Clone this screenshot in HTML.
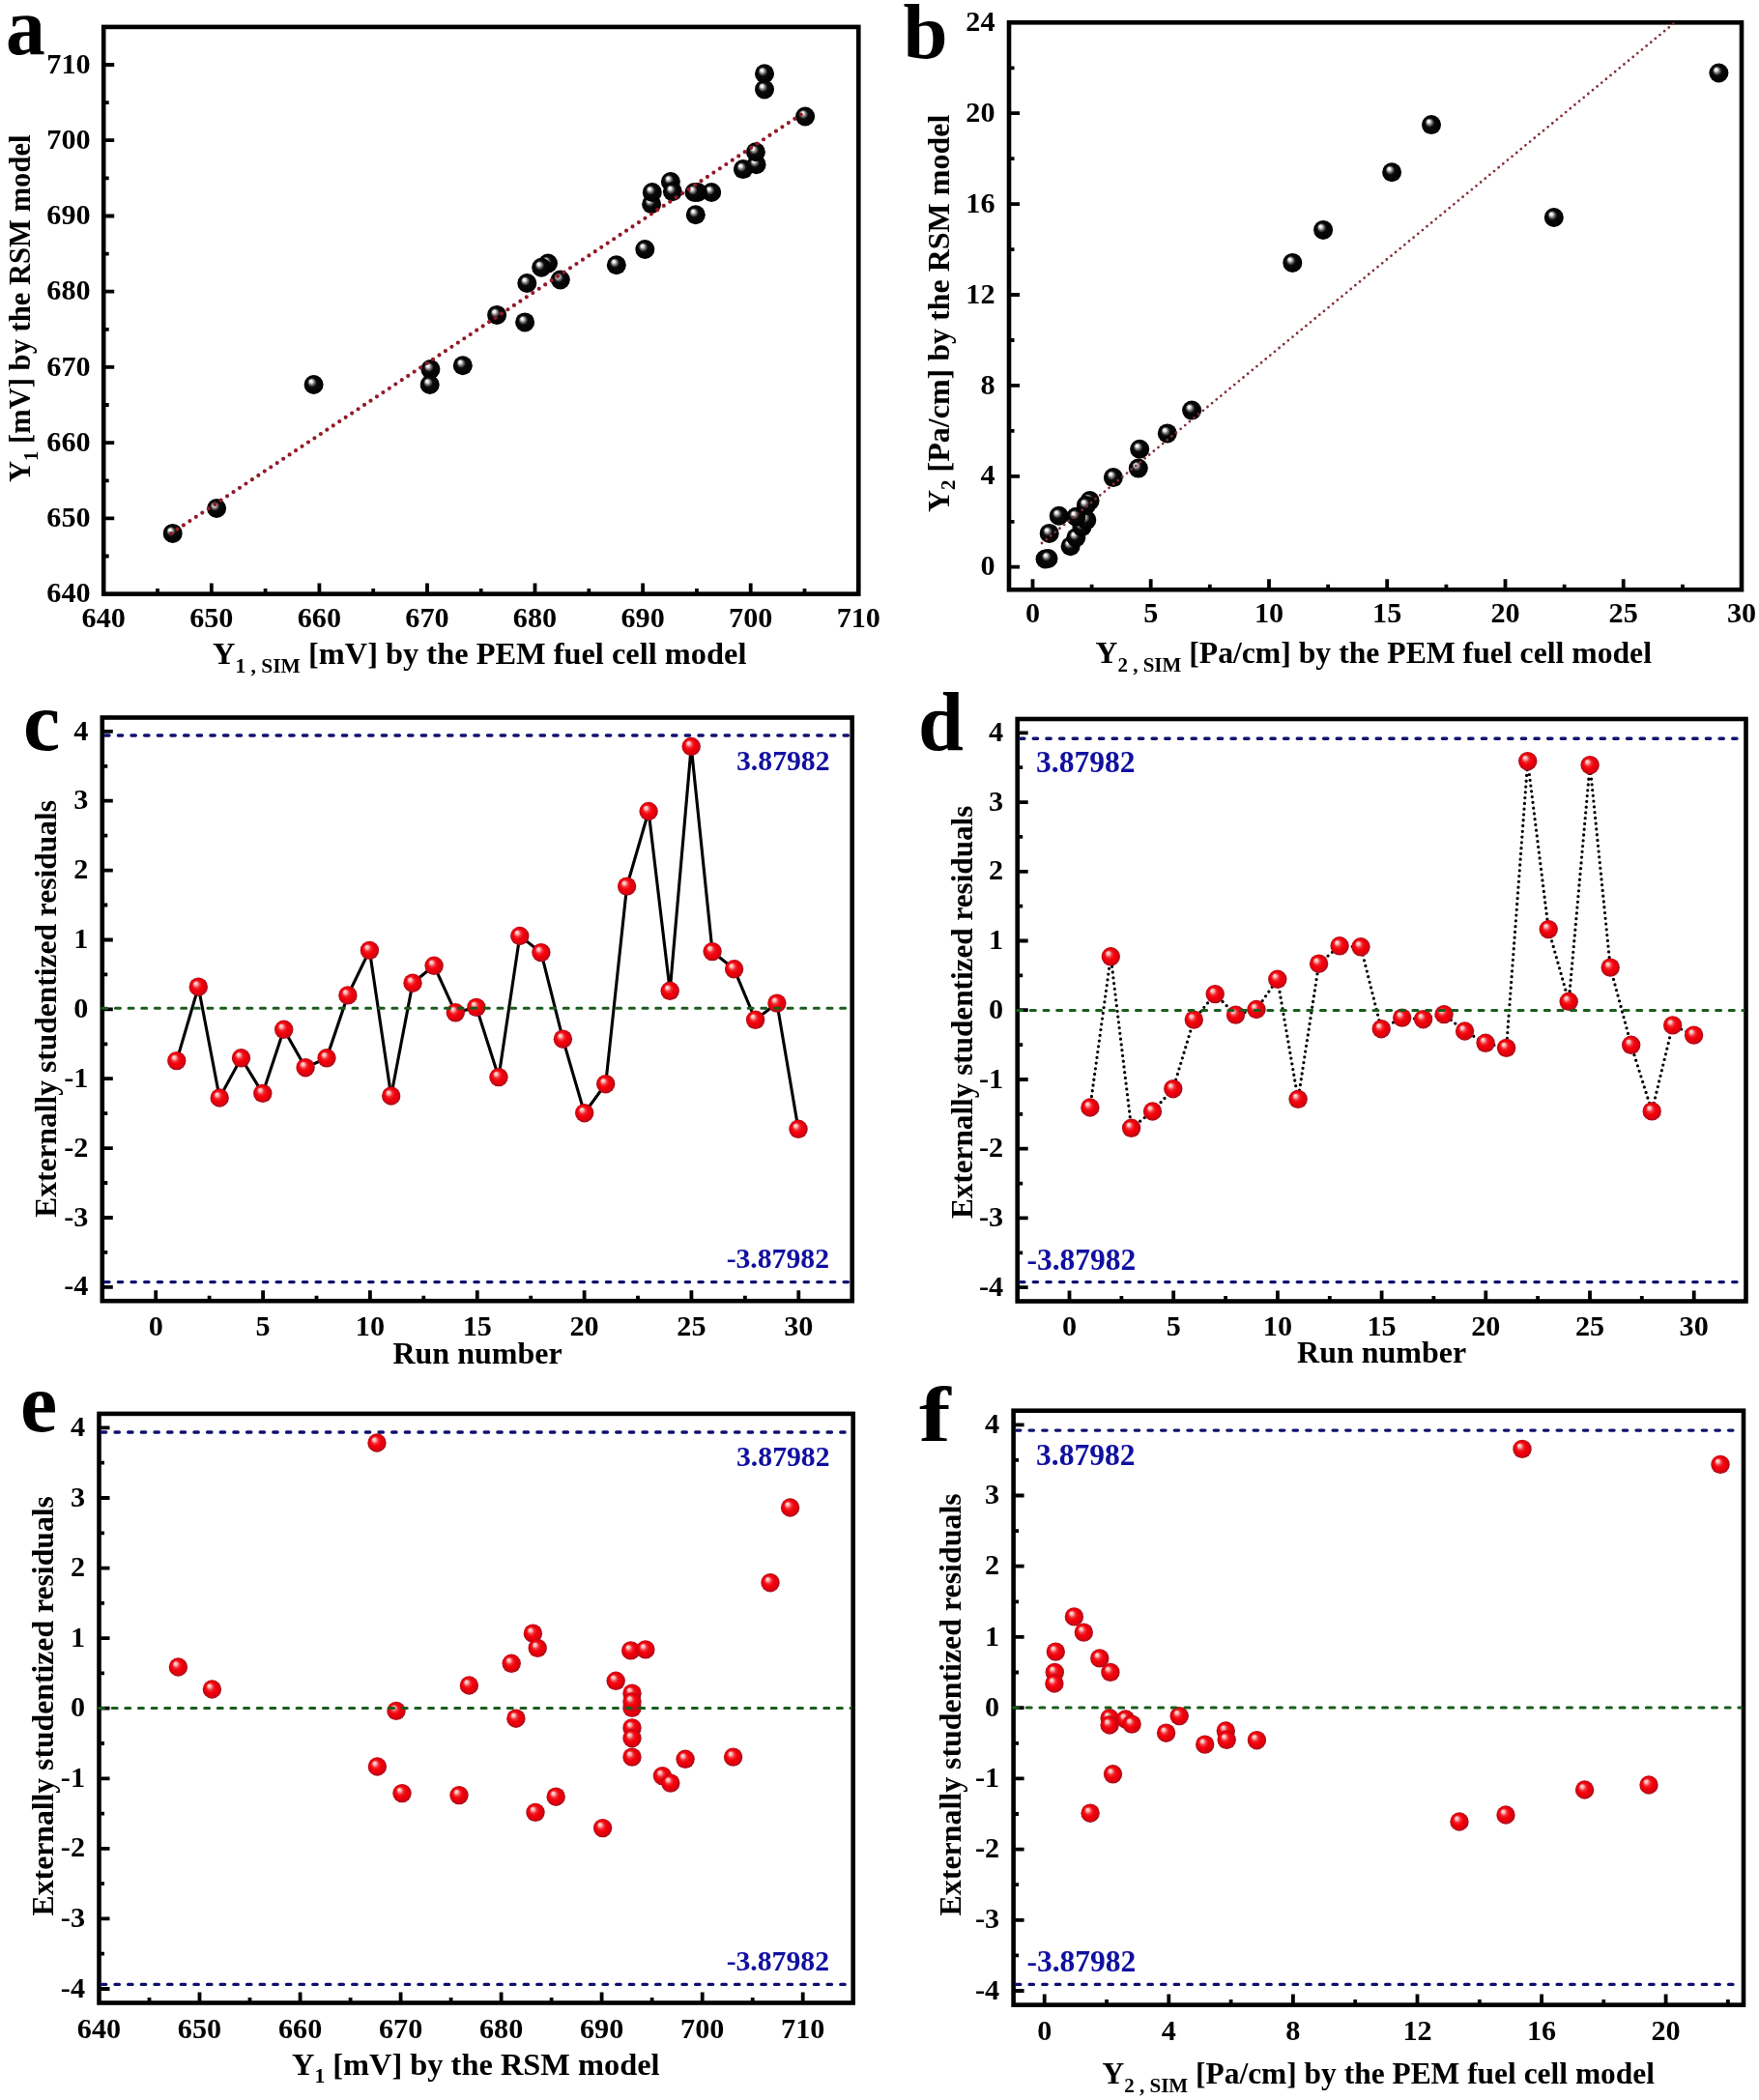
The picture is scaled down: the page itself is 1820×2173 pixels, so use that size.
<!DOCTYPE html>
<html><head><meta charset="utf-8"><title>Figure</title>
<style>html,body{margin:0;padding:0;background:#fff;}svg{display:block;filter:blur(0.45px);}</style>
</head><body>
<svg width="1820" height="2173" viewBox="0 0 1820 2173" font-family="'Liberation Serif', 'Times New Roman', serif" font-weight="bold">
<defs>
<radialGradient id="gk" cx="0.5" cy="0.5" r="0.5" fx="0.34" fy="0.3">
<stop offset="0" stop-color="#ffffff"/>
<stop offset="0.14" stop-color="#eeeeee"/>
<stop offset="0.3" stop-color="#777"/>
<stop offset="0.48" stop-color="#0a0a0a"/>
<stop offset="1" stop-color="#000"/>
</radialGradient>
<radialGradient id="gr" cx="0.5" cy="0.5" r="0.5" fx="0.33" fy="0.29">
<stop offset="0" stop-color="#ffe6e0"/>
<stop offset="0.18" stop-color="#ffb4b0"/>
<stop offset="0.36" stop-color="#f0303a"/>
<stop offset="0.56" stop-color="#f50008"/>
<stop offset="0.8" stop-color="#e2000e"/>
<stop offset="0.92" stop-color="#b80c18"/>
<stop offset="1" stop-color="#a00c18"/>
</radialGradient>
</defs>
<rect width="1820" height="2173" fill="#fff"/>
<path d="M218.8 614.6V603.6M330.4 614.6V603.6M442 614.6V603.6M553.5 614.6V603.6M665.1 614.6V603.6M776.7 614.6V603.6M163 614.6V609.1M274.6 614.6V609.1M386.2 614.6V609.1M497.7 614.6V609.1M609.3 614.6V609.1M720.9 614.6V609.1M832.5 614.6V609.1M107.2 536.4H118.2M107.2 458.1H118.2M107.2 379.9H118.2M107.2 301.7H118.2M107.2 223.5H118.2M107.2 145.2H118.2M107.2 67H118.2M107.2 575.5H112.7M107.2 497.3H112.7M107.2 419H112.7M107.2 340.8H112.7M107.2 262.6H112.7M107.2 184.4H112.7M107.2 106.1H112.7" stroke="#000" stroke-width="3.8" fill="none"/>
<rect x="107.2" y="27.9" width="781.1" height="586.7" fill="none" stroke="#000" stroke-width="4.6" stroke-linejoin="miter"/>
<g font-size="30.2"><text x="107.2" y="649.1" text-anchor="middle">640</text><text x="218.8" y="649.1" text-anchor="middle">650</text><text x="330.4" y="649.1" text-anchor="middle">660</text><text x="442" y="649.1" text-anchor="middle">670</text><text x="553.5" y="649.1" text-anchor="middle">680</text><text x="665.1" y="649.1" text-anchor="middle">690</text><text x="776.7" y="649.1" text-anchor="middle">700</text><text x="888.3" y="649.1" text-anchor="middle">710</text><text x="93.6" y="623.2" text-anchor="end">640</text><text x="93.6" y="545" text-anchor="end">650</text><text x="93.6" y="466.7" text-anchor="end">660</text><text x="93.6" y="388.5" text-anchor="end">670</text><text x="93.6" y="310.3" text-anchor="end">680</text><text x="93.6" y="232.1" text-anchor="end">690</text><text x="93.6" y="153.8" text-anchor="end">700</text><text x="93.6" y="75.6" text-anchor="end">710</text></g>
<g><circle cx="178.7" cy="551.9" r="10" fill="url(#gk)"/><circle cx="224.1" cy="526" r="10" fill="url(#gk)"/><circle cx="324.6" cy="398" r="10" fill="url(#gk)"/><circle cx="445.4" cy="382.1" r="10" fill="url(#gk)"/><circle cx="444.7" cy="398" r="10" fill="url(#gk)"/><circle cx="478.8" cy="378.2" r="10" fill="url(#gk)"/><circle cx="514.1" cy="325.9" r="10" fill="url(#gk)"/><circle cx="543.1" cy="333.4" r="10" fill="url(#gk)"/><circle cx="545.3" cy="293" r="10" fill="url(#gk)"/><circle cx="567" cy="272.5" r="10" fill="url(#gk)"/><circle cx="560.2" cy="276.8" r="10" fill="url(#gk)"/><circle cx="579.8" cy="289.5" r="10" fill="url(#gk)"/><circle cx="637.8" cy="274.2" r="10" fill="url(#gk)"/><circle cx="667.3" cy="258" r="10" fill="url(#gk)"/><circle cx="674.1" cy="211.2" r="10" fill="url(#gk)"/><circle cx="674.8" cy="199" r="10" fill="url(#gk)"/><circle cx="693.9" cy="188" r="10" fill="url(#gk)"/><circle cx="695.9" cy="198.3" r="10" fill="url(#gk)"/><circle cx="719.8" cy="222.2" r="10" fill="url(#gk)"/><circle cx="736.2" cy="199" r="10" fill="url(#gk)"/><circle cx="721.9" cy="199" r="10" fill="url(#gk)"/><circle cx="718.5" cy="199" r="10" fill="url(#gk)"/><circle cx="768.9" cy="175.1" r="10" fill="url(#gk)"/><circle cx="782.6" cy="170.3" r="10" fill="url(#gk)"/><circle cx="781.9" cy="157.3" r="10" fill="url(#gk)"/><circle cx="791" cy="92.5" r="10" fill="url(#gk)"/><circle cx="791" cy="76.2" r="10" fill="url(#gk)"/><circle cx="833.1" cy="120.5" r="10" fill="url(#gk)"/></g>
<line x1="177" y1="552" x2="831" y2="117" stroke="#921a28" stroke-width="4.2" stroke-linecap="round" stroke-dasharray="0 7.75"/>
<path d="M1068.5 610.2V599.2M1190.7 610.2V599.2M1313 610.2V599.2M1435.2 610.2V599.2M1557.5 610.2V599.2M1679.7 610.2V599.2M1129.6 610.2V604.7M1251.8 610.2V604.7M1374.1 610.2V604.7M1496.4 610.2V604.7M1618.6 610.2V604.7M1740.9 610.2V604.7M1044 586.7H1055M1044 492.8H1055M1044 398.9H1055M1044 305H1055M1044 211.1H1055M1044 117.2H1055M1044 539.8H1049.5M1044 445.9H1049.5M1044 352H1049.5M1044 258.1H1049.5M1044 164.2H1049.5M1044 70.3H1049.5" stroke="#000" stroke-width="3.8" fill="none"/>
<rect x="1044" y="23.3" width="758" height="586.9" fill="none" stroke="#000" stroke-width="4.6" stroke-linejoin="miter"/>
<g font-size="30.2"><text x="1068.5" y="644" text-anchor="middle">0</text><text x="1190.7" y="644" text-anchor="middle">5</text><text x="1313" y="644" text-anchor="middle">10</text><text x="1435.2" y="644" text-anchor="middle">15</text><text x="1557.5" y="644" text-anchor="middle">20</text><text x="1679.7" y="644" text-anchor="middle">25</text><text x="1802" y="644" text-anchor="middle">30</text><text x="1029.5" y="595.3" text-anchor="end">0</text><text x="1029.5" y="501.4" text-anchor="end">4</text><text x="1029.5" y="407.5" text-anchor="end">8</text><text x="1029.5" y="313.6" text-anchor="end">12</text><text x="1029.5" y="219.7" text-anchor="end">16</text><text x="1029.5" y="125.8" text-anchor="end">20</text><text x="1029.5" y="31.9" text-anchor="end">24</text></g>
<g><circle cx="1081.5" cy="578.5" r="10" fill="url(#gk)"/><circle cx="1084.5" cy="578" r="10" fill="url(#gk)"/><circle cx="1085.7" cy="551.9" r="10" fill="url(#gk)"/><circle cx="1095.7" cy="533.8" r="10" fill="url(#gk)"/><circle cx="1107.6" cy="565.2" r="10" fill="url(#gk)"/><circle cx="1113.3" cy="556.2" r="10" fill="url(#gk)"/><circle cx="1119.5" cy="545.2" r="10" fill="url(#gk)"/><circle cx="1124.3" cy="538.1" r="10" fill="url(#gk)"/><circle cx="1113.3" cy="534.8" r="10" fill="url(#gk)"/><circle cx="1127.6" cy="518.1" r="10" fill="url(#gk)"/><circle cx="1123.8" cy="522.9" r="10" fill="url(#gk)"/><circle cx="1151.9" cy="494.1" r="10" fill="url(#gk)"/><circle cx="1177.8" cy="484.6" r="10" fill="url(#gk)"/><circle cx="1179.2" cy="464.8" r="10" fill="url(#gk)"/><circle cx="1207.8" cy="448.4" r="10" fill="url(#gk)"/><circle cx="1233.1" cy="424.6" r="10" fill="url(#gk)"/><circle cx="1337.3" cy="271.9" r="10" fill="url(#gk)"/><circle cx="1369.1" cy="237.9" r="10" fill="url(#gk)"/><circle cx="1440.1" cy="178.2" r="10" fill="url(#gk)"/><circle cx="1481" cy="129.1" r="10" fill="url(#gk)"/><circle cx="1607.8" cy="225" r="10" fill="url(#gk)"/><circle cx="1778.4" cy="75.5" r="10" fill="url(#gk)"/></g>
<line x1="1078" y1="562" x2="1732.6" y2="23.6" stroke="#84303a" stroke-width="2.8" stroke-linecap="round" stroke-dasharray="0 6.0"/>
<path d="M161.2 1346.2V1335.2M272.1 1346.2V1335.2M382.9 1346.2V1335.2M493.8 1346.2V1335.2M604.6 1346.2V1335.2M715.4 1346.2V1335.2M826.3 1346.2V1335.2M216.6 1346.2V1340.7M327.5 1346.2V1340.7M438.3 1346.2V1340.7M549.2 1346.2V1340.7M660 1346.2V1340.7M770.9 1346.2V1340.7M105.8 1331.8H116.8M105.8 1260H116.8M105.8 1188.1H116.8M105.8 1116.2H116.8M105.8 1044.3H116.8M105.8 972.5H116.8M105.8 900.6H116.8M105.8 828.7H116.8M105.8 756.9H116.8M105.8 1295.9H111.3M105.8 1224H111.3M105.8 1152.2H111.3M105.8 1080.3H111.3M105.8 1008.4H111.3M105.8 936.5H111.3M105.8 864.7H111.3M105.8 792.8H111.3" stroke="#000" stroke-width="3.8" fill="none"/>
<rect x="105.8" y="742.5" width="775.9" height="603.7" fill="none" stroke="#000" stroke-width="4.6" stroke-linejoin="miter"/>
<g font-size="30.2"><text x="161.2" y="1381.5" text-anchor="middle">0</text><text x="272.1" y="1381.5" text-anchor="middle">5</text><text x="382.9" y="1381.5" text-anchor="middle">10</text><text x="493.8" y="1381.5" text-anchor="middle">15</text><text x="604.6" y="1381.5" text-anchor="middle">20</text><text x="715.4" y="1381.5" text-anchor="middle">25</text><text x="826.3" y="1381.5" text-anchor="middle">30</text><text x="91.3" y="1340.4" text-anchor="end">-4</text><text x="91.3" y="1268.6" text-anchor="end">-3</text><text x="91.3" y="1196.7" text-anchor="end">-2</text><text x="91.3" y="1124.8" text-anchor="end">-1</text><text x="91.3" y="1052.9" text-anchor="end">0</text><text x="91.3" y="981.1" text-anchor="end">1</text><text x="91.3" y="909.2" text-anchor="end">2</text><text x="91.3" y="837.3" text-anchor="end">3</text><text x="91.3" y="765.5" text-anchor="end">4</text></g>
<polyline points="182.8,1097.6 205.3,1021.2 227.2,1136 249.5,1094.8 271.8,1131.4 293.7,1065.3 316.1,1104.7 338,1094.8 359.9,1029.9 382.4,983.4 404.7,1134 427,1017.2 449.1,999.3 471.3,1047.8 492.9,1042.4 516,1114.6 537.8,968.5 559.9,985.6 582.4,1075.2 604.7,1151.7 626.7,1121.7 648.6,917.1 671.1,839.5 693.2,1025.3 715.2,772.5 737.1,984.6 759.6,1002.8 781.6,1055.3 803.9,1038.1 826,1168.3" fill="none" stroke="#000" stroke-width="3.1" stroke-linejoin="miter"/>
<g><circle cx="182.8" cy="1097.6" r="9.7" fill="url(#gr)"/><circle cx="205.3" cy="1021.2" r="9.7" fill="url(#gr)"/><circle cx="227.2" cy="1136" r="9.7" fill="url(#gr)"/><circle cx="249.5" cy="1094.8" r="9.7" fill="url(#gr)"/><circle cx="271.8" cy="1131.4" r="9.7" fill="url(#gr)"/><circle cx="293.7" cy="1065.3" r="9.7" fill="url(#gr)"/><circle cx="316.1" cy="1104.7" r="9.7" fill="url(#gr)"/><circle cx="338" cy="1094.8" r="9.7" fill="url(#gr)"/><circle cx="359.9" cy="1029.9" r="9.7" fill="url(#gr)"/><circle cx="382.4" cy="983.4" r="9.7" fill="url(#gr)"/><circle cx="404.7" cy="1134" r="9.7" fill="url(#gr)"/><circle cx="427" cy="1017.2" r="9.7" fill="url(#gr)"/><circle cx="449.1" cy="999.3" r="9.7" fill="url(#gr)"/><circle cx="471.3" cy="1047.8" r="9.7" fill="url(#gr)"/><circle cx="492.9" cy="1042.4" r="9.7" fill="url(#gr)"/><circle cx="516" cy="1114.6" r="9.7" fill="url(#gr)"/><circle cx="537.8" cy="968.5" r="9.7" fill="url(#gr)"/><circle cx="559.9" cy="985.6" r="9.7" fill="url(#gr)"/><circle cx="582.4" cy="1075.2" r="9.7" fill="url(#gr)"/><circle cx="604.7" cy="1151.7" r="9.7" fill="url(#gr)"/><circle cx="626.7" cy="1121.7" r="9.7" fill="url(#gr)"/><circle cx="648.6" cy="917.1" r="9.7" fill="url(#gr)"/><circle cx="671.1" cy="839.5" r="9.7" fill="url(#gr)"/><circle cx="693.2" cy="1025.3" r="9.7" fill="url(#gr)"/><circle cx="715.2" cy="772.5" r="9.7" fill="url(#gr)"/><circle cx="737.1" cy="984.6" r="9.7" fill="url(#gr)"/><circle cx="759.6" cy="1002.8" r="9.7" fill="url(#gr)"/><circle cx="781.6" cy="1055.3" r="9.7" fill="url(#gr)"/><circle cx="803.9" cy="1038.1" r="9.7" fill="url(#gr)"/><circle cx="826" cy="1168.3" r="9.7" fill="url(#gr)"/></g>
<path d="M105.3 761H879.2 M105.3 1326.6H879.2" stroke="#10106e" stroke-width="3.4" stroke-linecap="round" stroke-dasharray="4.3 9.35" stroke-dashoffset="-3.4" fill="none"/>
<path d="M105.8 1043.3H879.2" stroke="#1a5c1c" stroke-width="3.0" stroke-linecap="round" stroke-dasharray="5.0 8.64" fill="none"/>
<g fill="#1010a0" font-size="29.7"><text x="858.5" y="797.3" text-anchor="end">3.87982</text><text x="858" y="1311.7" text-anchor="end">-3.87982</text></g>
<path d="M1106.5 1346.5V1335.5M1214.2 1346.5V1335.5M1321.9 1346.5V1335.5M1429.6 1346.5V1335.5M1537.3 1346.5V1335.5M1645 1346.5V1335.5M1752.7 1346.5V1335.5M1160.4 1346.5V1341M1268.1 1346.5V1341M1375.8 1346.5V1341M1483.4 1346.5V1341M1591.1 1346.5V1341M1698.8 1346.5V1341M1052.7 1332.2H1063.7M1052.7 1260.4H1063.7M1052.7 1188.7H1063.7M1052.7 1117H1063.7M1052.7 1045.2H1063.7M1052.7 973.5H1063.7M1052.7 901.8H1063.7M1052.7 830.1H1063.7M1052.7 758.3H1063.7M1052.7 1296.3H1058.2M1052.7 1224.6H1058.2M1052.7 1152.8H1058.2M1052.7 1081.1H1058.2M1052.7 1009.4H1058.2M1052.7 937.7H1058.2M1052.7 865.9H1058.2M1052.7 794.2H1058.2" stroke="#000" stroke-width="3.8" fill="none"/>
<rect x="1052.7" y="744" width="753.8" height="602.5" fill="none" stroke="#000" stroke-width="4.6" stroke-linejoin="miter"/>
<g font-size="30.2"><text x="1106.5" y="1382" text-anchor="middle">0</text><text x="1214.2" y="1382" text-anchor="middle">5</text><text x="1321.9" y="1382" text-anchor="middle">10</text><text x="1429.6" y="1382" text-anchor="middle">15</text><text x="1537.3" y="1382" text-anchor="middle">20</text><text x="1645" y="1382" text-anchor="middle">25</text><text x="1752.7" y="1382" text-anchor="middle">30</text><text x="1038.2" y="1340.8" text-anchor="end">-4</text><text x="1038.2" y="1269" text-anchor="end">-3</text><text x="1038.2" y="1197.3" text-anchor="end">-2</text><text x="1038.2" y="1125.6" text-anchor="end">-1</text><text x="1038.2" y="1053.8" text-anchor="end">0</text><text x="1038.2" y="982.1" text-anchor="end">1</text><text x="1038.2" y="910.4" text-anchor="end">2</text><text x="1038.2" y="838.7" text-anchor="end">3</text><text x="1038.2" y="766.9" text-anchor="end">4</text></g>
<polyline points="1127.9,1146 1149.3,989.8 1170.6,1167.3 1192.5,1150 1213.8,1126.7 1235.3,1055.1 1257.2,1028.6 1278.5,1050.1 1300,1044.5 1321.8,1013.3 1343.1,1137.4 1364.6,997.2 1386.1,978.8 1408,979.8 1429.2,1064.7 1450.7,1053.1 1472.6,1054.7 1494.1,1049.6 1515.6,1067 1537.1,1079.3 1558.6,1084.4 1580.7,787.6 1602.2,961.6 1623.2,1036.3 1645.1,791.7 1666.2,1001.1 1687.7,1081.3 1709.2,1149.9 1730.7,1060.9 1752.6,1071.1" fill="none" stroke="#000" stroke-width="3.3" stroke-linecap="round" stroke-dasharray="0 5.8" />
<g><circle cx="1127.9" cy="1146" r="9.7" fill="url(#gr)"/><circle cx="1149.3" cy="989.8" r="9.7" fill="url(#gr)"/><circle cx="1170.6" cy="1167.3" r="9.7" fill="url(#gr)"/><circle cx="1192.5" cy="1150" r="9.7" fill="url(#gr)"/><circle cx="1213.8" cy="1126.7" r="9.7" fill="url(#gr)"/><circle cx="1235.3" cy="1055.1" r="9.7" fill="url(#gr)"/><circle cx="1257.2" cy="1028.6" r="9.7" fill="url(#gr)"/><circle cx="1278.5" cy="1050.1" r="9.7" fill="url(#gr)"/><circle cx="1300" cy="1044.5" r="9.7" fill="url(#gr)"/><circle cx="1321.8" cy="1013.3" r="9.7" fill="url(#gr)"/><circle cx="1343.1" cy="1137.4" r="9.7" fill="url(#gr)"/><circle cx="1364.6" cy="997.2" r="9.7" fill="url(#gr)"/><circle cx="1386.1" cy="978.8" r="9.7" fill="url(#gr)"/><circle cx="1408" cy="979.8" r="9.7" fill="url(#gr)"/><circle cx="1429.2" cy="1064.7" r="9.7" fill="url(#gr)"/><circle cx="1450.7" cy="1053.1" r="9.7" fill="url(#gr)"/><circle cx="1472.6" cy="1054.7" r="9.7" fill="url(#gr)"/><circle cx="1494.1" cy="1049.6" r="9.7" fill="url(#gr)"/><circle cx="1515.6" cy="1067" r="9.7" fill="url(#gr)"/><circle cx="1537.1" cy="1079.3" r="9.7" fill="url(#gr)"/><circle cx="1558.6" cy="1084.4" r="9.7" fill="url(#gr)"/><circle cx="1580.7" cy="787.6" r="9.7" fill="url(#gr)"/><circle cx="1602.2" cy="961.6" r="9.7" fill="url(#gr)"/><circle cx="1623.2" cy="1036.3" r="9.7" fill="url(#gr)"/><circle cx="1645.1" cy="791.7" r="9.7" fill="url(#gr)"/><circle cx="1666.2" cy="1001.1" r="9.7" fill="url(#gr)"/><circle cx="1687.7" cy="1081.3" r="9.7" fill="url(#gr)"/><circle cx="1709.2" cy="1149.9" r="9.7" fill="url(#gr)"/><circle cx="1730.7" cy="1060.9" r="9.7" fill="url(#gr)"/><circle cx="1752.6" cy="1071.1" r="9.7" fill="url(#gr)"/></g>
<path d="M1052.2 764.2H1804 M1052.2 1326.6H1804" stroke="#10106e" stroke-width="3.4" stroke-linecap="round" stroke-dasharray="4.3 9.35" stroke-dashoffset="-3.4" fill="none"/>
<path d="M1052.7 1045.6H1804" stroke="#1a5c1c" stroke-width="3.0" stroke-linecap="round" stroke-dasharray="5.0 8.64" fill="none"/>
<g fill="#1010a0" font-size="31.5"><text x="1072" y="798.5">3.87982</text><text x="1062.5" y="1313.5">-3.87982</text></g>
<path d="M206.5 2072.5V2061.5M310.6 2072.5V2061.5M414.6 2072.5V2061.5M518.6 2072.5V2061.5M622.6 2072.5V2061.5M726.7 2072.5V2061.5M830.7 2072.5V2061.5M154.5 2072.5V2067M258.5 2072.5V2067M362.6 2072.5V2067M466.6 2072.5V2067M570.6 2072.5V2067M674.6 2072.5V2067M778.7 2072.5V2067M102.5 2058H113.5M102.5 1985.4H113.5M102.5 1912.8H113.5M102.5 1840.3H113.5M102.5 1767.7H113.5M102.5 1695.1H113.5M102.5 1622.6H113.5M102.5 1550H113.5M102.5 1477.4H113.5M102.5 2021.7H108M102.5 1949.1H108M102.5 1876.6H108M102.5 1804H108M102.5 1731.4H108M102.5 1658.8H108M102.5 1586.3H108M102.5 1513.7H108" stroke="#000" stroke-width="3.8" fill="none"/>
<rect x="102.5" y="1462.9" width="780.2" height="609.6" fill="none" stroke="#000" stroke-width="4.6" stroke-linejoin="miter"/>
<g font-size="30.2"><text x="102.5" y="2108.5" text-anchor="middle">640</text><text x="206.5" y="2108.5" text-anchor="middle">650</text><text x="310.6" y="2108.5" text-anchor="middle">660</text><text x="414.6" y="2108.5" text-anchor="middle">670</text><text x="518.6" y="2108.5" text-anchor="middle">680</text><text x="622.6" y="2108.5" text-anchor="middle">690</text><text x="726.7" y="2108.5" text-anchor="middle">700</text><text x="830.7" y="2108.5" text-anchor="middle">710</text><text x="88" y="2066.6" text-anchor="end">-4</text><text x="88" y="1994" text-anchor="end">-3</text><text x="88" y="1921.4" text-anchor="end">-2</text><text x="88" y="1848.9" text-anchor="end">-1</text><text x="88" y="1776.3" text-anchor="end">0</text><text x="88" y="1703.7" text-anchor="end">1</text><text x="88" y="1631.2" text-anchor="end">2</text><text x="88" y="1558.6" text-anchor="end">3</text><text x="88" y="1486" text-anchor="end">4</text></g>
<g><circle cx="390" cy="1493" r="9.7" fill="url(#gr)"/><circle cx="184.4" cy="1725" r="9.7" fill="url(#gr)"/><circle cx="219.4" cy="1748" r="9.7" fill="url(#gr)"/><circle cx="485.4" cy="1744" r="9.7" fill="url(#gr)"/><circle cx="410" cy="1770.4" r="9.7" fill="url(#gr)"/><circle cx="390.4" cy="1828" r="9.7" fill="url(#gr)"/><circle cx="416" cy="1855.6" r="9.7" fill="url(#gr)"/><circle cx="475" cy="1857.6" r="9.7" fill="url(#gr)"/><circle cx="817.6" cy="1560" r="9.7" fill="url(#gr)"/><circle cx="797" cy="1637.7" r="9.7" fill="url(#gr)"/><circle cx="551.4" cy="1690.2" r="9.7" fill="url(#gr)"/><circle cx="556.2" cy="1705.4" r="9.7" fill="url(#gr)"/><circle cx="529.2" cy="1721.3" r="9.7" fill="url(#gr)"/><circle cx="652.7" cy="1707.9" r="9.7" fill="url(#gr)"/><circle cx="667.9" cy="1706.9" r="9.7" fill="url(#gr)"/><circle cx="637.2" cy="1739.3" r="9.7" fill="url(#gr)"/><circle cx="654" cy="1752.2" r="9.7" fill="url(#gr)"/><circle cx="654" cy="1767.4" r="9.7" fill="url(#gr)"/><circle cx="654" cy="1760.9" r="9.7" fill="url(#gr)"/><circle cx="533.9" cy="1778.2" r="9.7" fill="url(#gr)"/><circle cx="654" cy="1787.9" r="9.7" fill="url(#gr)"/><circle cx="654" cy="1798.7" r="9.7" fill="url(#gr)"/><circle cx="654" cy="1818.1" r="9.7" fill="url(#gr)"/><circle cx="709.1" cy="1820.3" r="9.7" fill="url(#gr)"/><circle cx="758.6" cy="1818.1" r="9.7" fill="url(#gr)"/><circle cx="685.4" cy="1837.6" r="9.7" fill="url(#gr)"/><circle cx="693.8" cy="1845.1" r="9.7" fill="url(#gr)"/><circle cx="575.2" cy="1859.2" r="9.7" fill="url(#gr)"/><circle cx="554" cy="1875.4" r="9.7" fill="url(#gr)"/><circle cx="623.6" cy="1891.6" r="9.7" fill="url(#gr)"/></g>
<path d="M102 1482H880.2 M102 2053.4H880.2" stroke="#10106e" stroke-width="3.4" stroke-linecap="round" stroke-dasharray="4.3 9.35" stroke-dashoffset="-3.4" fill="none"/>
<path d="M102.5 1767.6H880.2" stroke="#1a5c1c" stroke-width="3.0" stroke-linecap="round" stroke-dasharray="5.0 8.64" fill="none"/>
<g fill="#1010a0" font-size="29.7"><text x="858.5" y="1516.6" text-anchor="end">3.87982</text><text x="858" y="2038.7" text-anchor="end">-3.87982</text></g>
<path d="M1080.7 2074.6V2063.6M1209.3 2074.6V2063.6M1337.9 2074.6V2063.6M1466.5 2074.6V2063.6M1595.1 2074.6V2063.6M1723.6 2074.6V2063.6M1145 2074.6V2069.1M1273.6 2074.6V2069.1M1402.2 2074.6V2069.1M1530.8 2074.6V2069.1M1659.3 2074.6V2069.1M1787.9 2074.6V2069.1M1048.6 2060H1059.6M1048.6 1986.8H1059.6M1048.6 1913.6H1059.6M1048.6 1840.4H1059.6M1048.6 1767.2H1059.6M1048.6 1693.9H1059.6M1048.6 1620.7H1059.6M1048.6 1547.5H1059.6M1048.6 1474.3H1059.6M1048.6 2023.4H1054.1M1048.6 1950.2H1054.1M1048.6 1877H1054.1M1048.6 1803.8H1054.1M1048.6 1730.5H1054.1M1048.6 1657.3H1054.1M1048.6 1584.1H1054.1M1048.6 1510.9H1054.1" stroke="#000" stroke-width="3.8" fill="none"/>
<rect x="1048.6" y="1459.7" width="755.4" height="614.9" fill="none" stroke="#000" stroke-width="4.6" stroke-linejoin="miter"/>
<g font-size="30.2"><text x="1080.7" y="2110.6" text-anchor="middle">0</text><text x="1209.3" y="2110.6" text-anchor="middle">4</text><text x="1337.9" y="2110.6" text-anchor="middle">8</text><text x="1466.5" y="2110.6" text-anchor="middle">12</text><text x="1595.1" y="2110.6" text-anchor="middle">16</text><text x="1723.6" y="2110.6" text-anchor="middle">20</text><text x="1034.1" y="2068.6" text-anchor="end">-4</text><text x="1034.1" y="1995.4" text-anchor="end">-3</text><text x="1034.1" y="1922.2" text-anchor="end">-2</text><text x="1034.1" y="1849" text-anchor="end">-1</text><text x="1034.1" y="1775.8" text-anchor="end">0</text><text x="1034.1" y="1702.5" text-anchor="end">1</text><text x="1034.1" y="1629.3" text-anchor="end">2</text><text x="1034.1" y="1556.1" text-anchor="end">3</text><text x="1034.1" y="1482.9" text-anchor="end">4</text></g>
<g><circle cx="1111.4" cy="1672.9" r="9.7" fill="url(#gr)"/><circle cx="1121.3" cy="1689.1" r="9.7" fill="url(#gr)"/><circle cx="1092.3" cy="1709.1" r="9.7" fill="url(#gr)"/><circle cx="1091.3" cy="1730.4" r="9.7" fill="url(#gr)"/><circle cx="1090.9" cy="1742" r="9.7" fill="url(#gr)"/><circle cx="1137.8" cy="1715.9" r="9.7" fill="url(#gr)"/><circle cx="1148.9" cy="1730.4" r="9.7" fill="url(#gr)"/><circle cx="1148.1" cy="1777.8" r="9.7" fill="url(#gr)"/><circle cx="1148.1" cy="1785" r="9.7" fill="url(#gr)"/><circle cx="1164.6" cy="1779" r="9.7" fill="url(#gr)"/><circle cx="1171.1" cy="1784.1" r="9.7" fill="url(#gr)"/><circle cx="1220.2" cy="1775.6" r="9.7" fill="url(#gr)"/><circle cx="1206.6" cy="1793.2" r="9.7" fill="url(#gr)"/><circle cx="1246.7" cy="1805.1" r="9.7" fill="url(#gr)"/><circle cx="1268.3" cy="1791" r="9.7" fill="url(#gr)"/><circle cx="1269.2" cy="1800.3" r="9.7" fill="url(#gr)"/><circle cx="1300.4" cy="1800.7" r="9.7" fill="url(#gr)"/><circle cx="1151.5" cy="1835.8" r="9.7" fill="url(#gr)"/><circle cx="1128.1" cy="1876.2" r="9.7" fill="url(#gr)"/><circle cx="1575" cy="1499.4" r="9.7" fill="url(#gr)"/><circle cx="1780" cy="1515.4" r="9.7" fill="url(#gr)"/><circle cx="1510" cy="1885" r="9.7" fill="url(#gr)"/><circle cx="1558" cy="1878" r="9.7" fill="url(#gr)"/><circle cx="1639.6" cy="1852" r="9.7" fill="url(#gr)"/><circle cx="1706" cy="1847" r="9.7" fill="url(#gr)"/></g>
<path d="M1048.1 1480.1H1801.5 M1048.1 2053.4H1801.5" stroke="#10106e" stroke-width="3.4" stroke-linecap="round" stroke-dasharray="4.3 9.35" stroke-dashoffset="-3.4" fill="none"/>
<path d="M1048.6 1767.1H1801.5" stroke="#1a5c1c" stroke-width="3.0" stroke-linecap="round" stroke-dasharray="5.0 8.64" fill="none"/>
<g fill="#1010a0" font-size="31.5"><text x="1072" y="1516">3.87982</text><text x="1062.5" y="2039.5">-3.87982</text></g>
<text transform="translate(6 56) scale(0.95 0.985)" font-size="86">a</text>
<text transform="translate(934.5 60) scale(1.0 0.97)" font-size="83">b</text>
<text transform="translate(24 776) scale(1.0 1.0)" font-size="86">c</text>
<text transform="translate(950 776) scale(0.98 1.0)" font-size="86">d</text>
<text transform="translate(21 1481) scale(1.0 1.0)" font-size="86">e</text>
<text transform="translate(951 1491) scale(1.14 0.945)" font-size="86">f</text>
<text x="220" y="686.5" font-size="32.4">Y<tspan font-size="21.5" dy="9">1 , SIM</tspan><tspan dy="-9"> [mV] by the PEM fuel cell model</tspan></text>
<text x="1133.5" y="686" font-size="31.7">Y<tspan font-size="21" dy="9">2 , SIM</tspan><tspan dy="-9"> [Pa/cm] by the PEM fuel cell model</tspan></text>
<text x="1140.5" y="2156.3" font-size="31.45">Y<tspan font-size="21" dy="9">2 , SIM</tspan><tspan dy="-9"> [Pa/cm] by the PEM fuel cell model</tspan></text>
<text x="302" y="2147" font-size="32.4">Y<tspan font-size="21.5" dy="7.5">1</tspan><tspan dy="-7.5"> [mV] by the RSM model</tspan></text>
<text x="494" y="1411.3" font-size="32" text-anchor="middle">Run number</text>
<text x="1429.6" y="1410" font-size="32" text-anchor="middle">Run number</text>
<text transform="translate(30.5 499) rotate(-90)" font-size="30.6">Y<tspan font-size="20.5" dy="8.5">1</tspan><tspan dy="-8.5"> [mV] by the RSM model</tspan></text>
<text transform="translate(982 530) rotate(-90)" font-size="32">Y<tspan font-size="21" dy="6">2</tspan><tspan dy="-6"> [Pa/cm] by the RSM model</tspan></text>
<text transform="translate(58 1259.7) rotate(-90)" font-size="31.5">Externally studentized residuals</text>
<text transform="translate(1005.8 1261) rotate(-90)" font-size="31.2">Externally studentized residuals</text>
<text transform="translate(55.3 1982.4) rotate(-90)" font-size="31.7">Externally studentized residuals</text>
<text transform="translate(993.9 1982.4) rotate(-90)" font-size="31.9">Externally studentized residuals</text>
</svg>
</body></html>
